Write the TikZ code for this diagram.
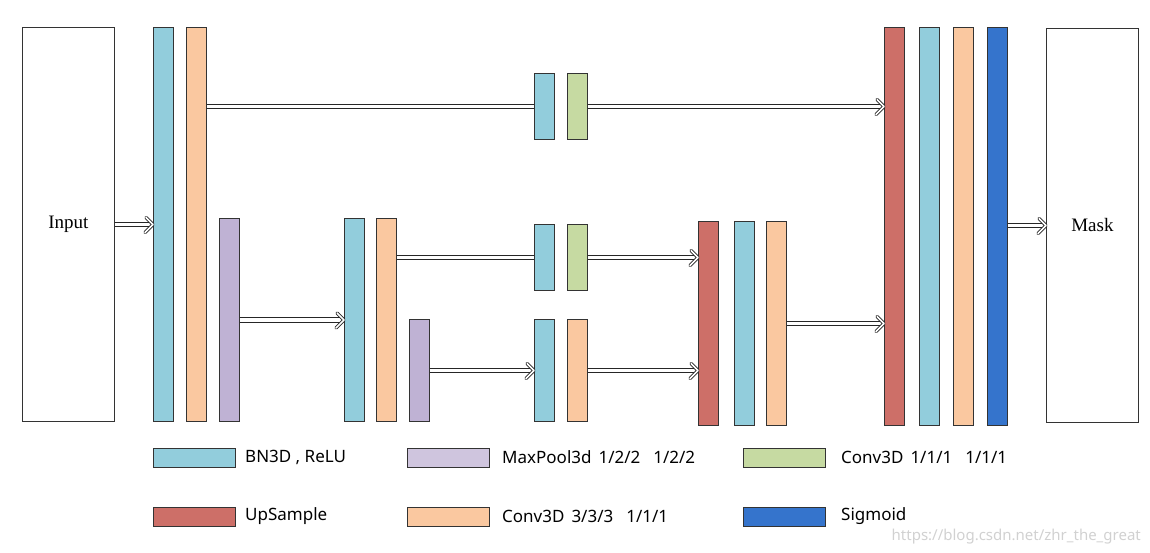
\documentclass[tikz,border=0pt]{standalone}
\usepackage{fontspec}
\newfontfamily\legfont{Noto Sans}
\newfontfamily\serfont{Liberation Serif}
\usetikzlibrary{arrows.meta,decorations.markings}
\definecolor{cblue}{HTML}{92CDDC}
\definecolor{corange}{HTML}{FAC8A0}
\definecolor{cpurple}{HTML}{BFB2D4}
\definecolor{cpurplel}{HTML}{CFC5DE}
\definecolor{cgreen}{HTML}{C6DAA2}
\definecolor{cred}{HTML}{CD6F68}
\definecolor{cdblue}{HTML}{3574CC}
\newcommand\gA{\hspace{7pt}}
\newcommand\gB{\hspace{13pt}}
\tikzset{
  bar/.style={draw=black!80, line width=0.9pt, rectangle, inner sep=0pt, minimum width=20pt, anchor=north west},
  bigbox/.style={draw=black!80, line width=0.9pt, rectangle, inner sep=0pt, minimum width=92pt, minimum height=394pt, anchor=north west, font=\serfont\fontsize{19}{22}\selectfont},
  legbox/.style={draw=black!80, line width=0.9pt, rectangle, inner sep=0pt, minimum width=82pt, minimum height=19pt, anchor=north west},
  legtext/.style={anchor=west, inner sep=0pt, font=\legfont\fontsize{17}{20}\selectfont},
  line/.style={double=white, draw=black!85, double distance=3.2pt, line width=1pt},
  arr/.style={line, shorten >=1.5pt, postaction={decorate, decoration={markings,
     mark=at position 1 with {\draw[line width=0.9pt, black!85, double=white, double distance=1.6pt, line join=round, line cap=round] (-8pt,-8pt) -- (0,0) -- (-8pt,8pt);}}}}
}
\begin{document}
\begin{tikzpicture}[x=1pt,y=-1pt]
\useasboundingbox (0,0) rectangle (1150,553);
% big boxes
\node[bigbox] (in) at (22,27) {Input};
\node[bigbox] (mask) at (1046,28) {Mask};
% encoder bars
\node[bar, fill=cblue, minimum height=394pt] (b1) at (153,27) {};
\node[bar, fill=corange, minimum height=394pt] (b2) at (186,27) {};
\node[bar, fill=cpurple, minimum height=203pt] (p1) at (219,218) {};
\node[bar, fill=cblue, minimum height=203pt] (b4) at (344,218) {};
\node[bar, fill=corange, minimum height=203pt] (b5) at (376,218) {};
\node[bar, fill=cpurple, minimum height=102pt] (p2) at (409,319) {};
% skip small blocks
\node[bar, fill=cblue, minimum height=66pt] (t1) at (534,73) {};
\node[bar, fill=cgreen, minimum height=66pt] (t2) at (567,73) {};
\node[bar, fill=cblue, minimum height=66pt] (m1) at (534,224) {};
\node[bar, fill=cgreen, minimum height=66pt] (m2) at (567,224) {};
\node[bar, fill=cblue, minimum height=102pt] (l1) at (534,319) {};
\node[bar, fill=corange, minimum height=102pt] (l2) at (567,319) {};
% decoder mid
\node[bar, fill=cred, minimum height=204pt] (r1) at (698,221) {};
\node[bar, fill=cblue, minimum height=204pt] (r2) at (734,221) {};
\node[bar, fill=corange, minimum height=204pt] (r3) at (766,221) {};
% decoder top
\node[bar, fill=cred, minimum height=398pt] (R1) at (884,27) {};
\node[bar, fill=cblue, minimum height=398pt] (R2) at (919,27) {};
\node[bar, fill=corange, minimum height=398pt] (R3) at (953,27) {};
\node[bar, fill=cdblue, minimum height=398pt] (R4) at (987,27) {};
% connectors
\draw[arr] (in.east) -- (b1.west |- in.east);
\draw[line] (b2.east |- t1.west) -- (t1.west);
\draw[arr] (t2.east) -- (R1.west |- t2.east);
\draw[line] (b5.east |- m1.west) -- (m1.west);
\draw[arr] (m2.east) -- (r1.west |- m2.east);
\draw[arr] (p1.east) -- (b4.west |- p1.east);
\draw[arr] (p2.east) -- (l1.west |- p2.east);
\draw[arr] (l2.east) -- (r1.west |- l2.east);
\draw[arr] (r3.east) -- (R1.west |- r3.east);
\draw[arr] (R4.east |- mask.west) -- (mask.west);
% legend
\node[legbox, fill=cblue] (lg1) at (153,448) {};
\node[legtext] (lt1) at (245,457.5) {BN3D , ReLU};
\node[legbox, fill=cpurplel] (lg2) at (407,448) {};
\node[legtext] (lt2) at (502,457.5) {MaxPool3d\gA 1/2/2\gB 1/2/2};
\node[legbox, fill=cgreen] (lg3) at (743,448) {};
\node[legtext] (lt3) at (841,457.5) {Conv3D\gA 1/1/1\gB 1/1/1};
\node[legbox, fill=cred] (lg4) at (153,507) {};
\node[legtext] (lt4) at (245,516.5) {UpSample};
\node[legbox, fill=corange] (lg5) at (407,507) {};
\node[legtext] (lt5) at (502,516.5) {Conv3D\gA 3/3/3\gB 1/1/1};
\node[legbox, fill=cdblue] (lg6) at (743,507) {};
\node[legtext] (lt6) at (841,516.5) {Sigmoid};
\node[anchor=east, inner sep=0pt, text=black!18, font=\legfont\fontsize{15}{17}\selectfont] (wm) at (1141,537) {https://blog.csdn.net/zhr\_the\_great};
\end{tikzpicture}
\end{document}
